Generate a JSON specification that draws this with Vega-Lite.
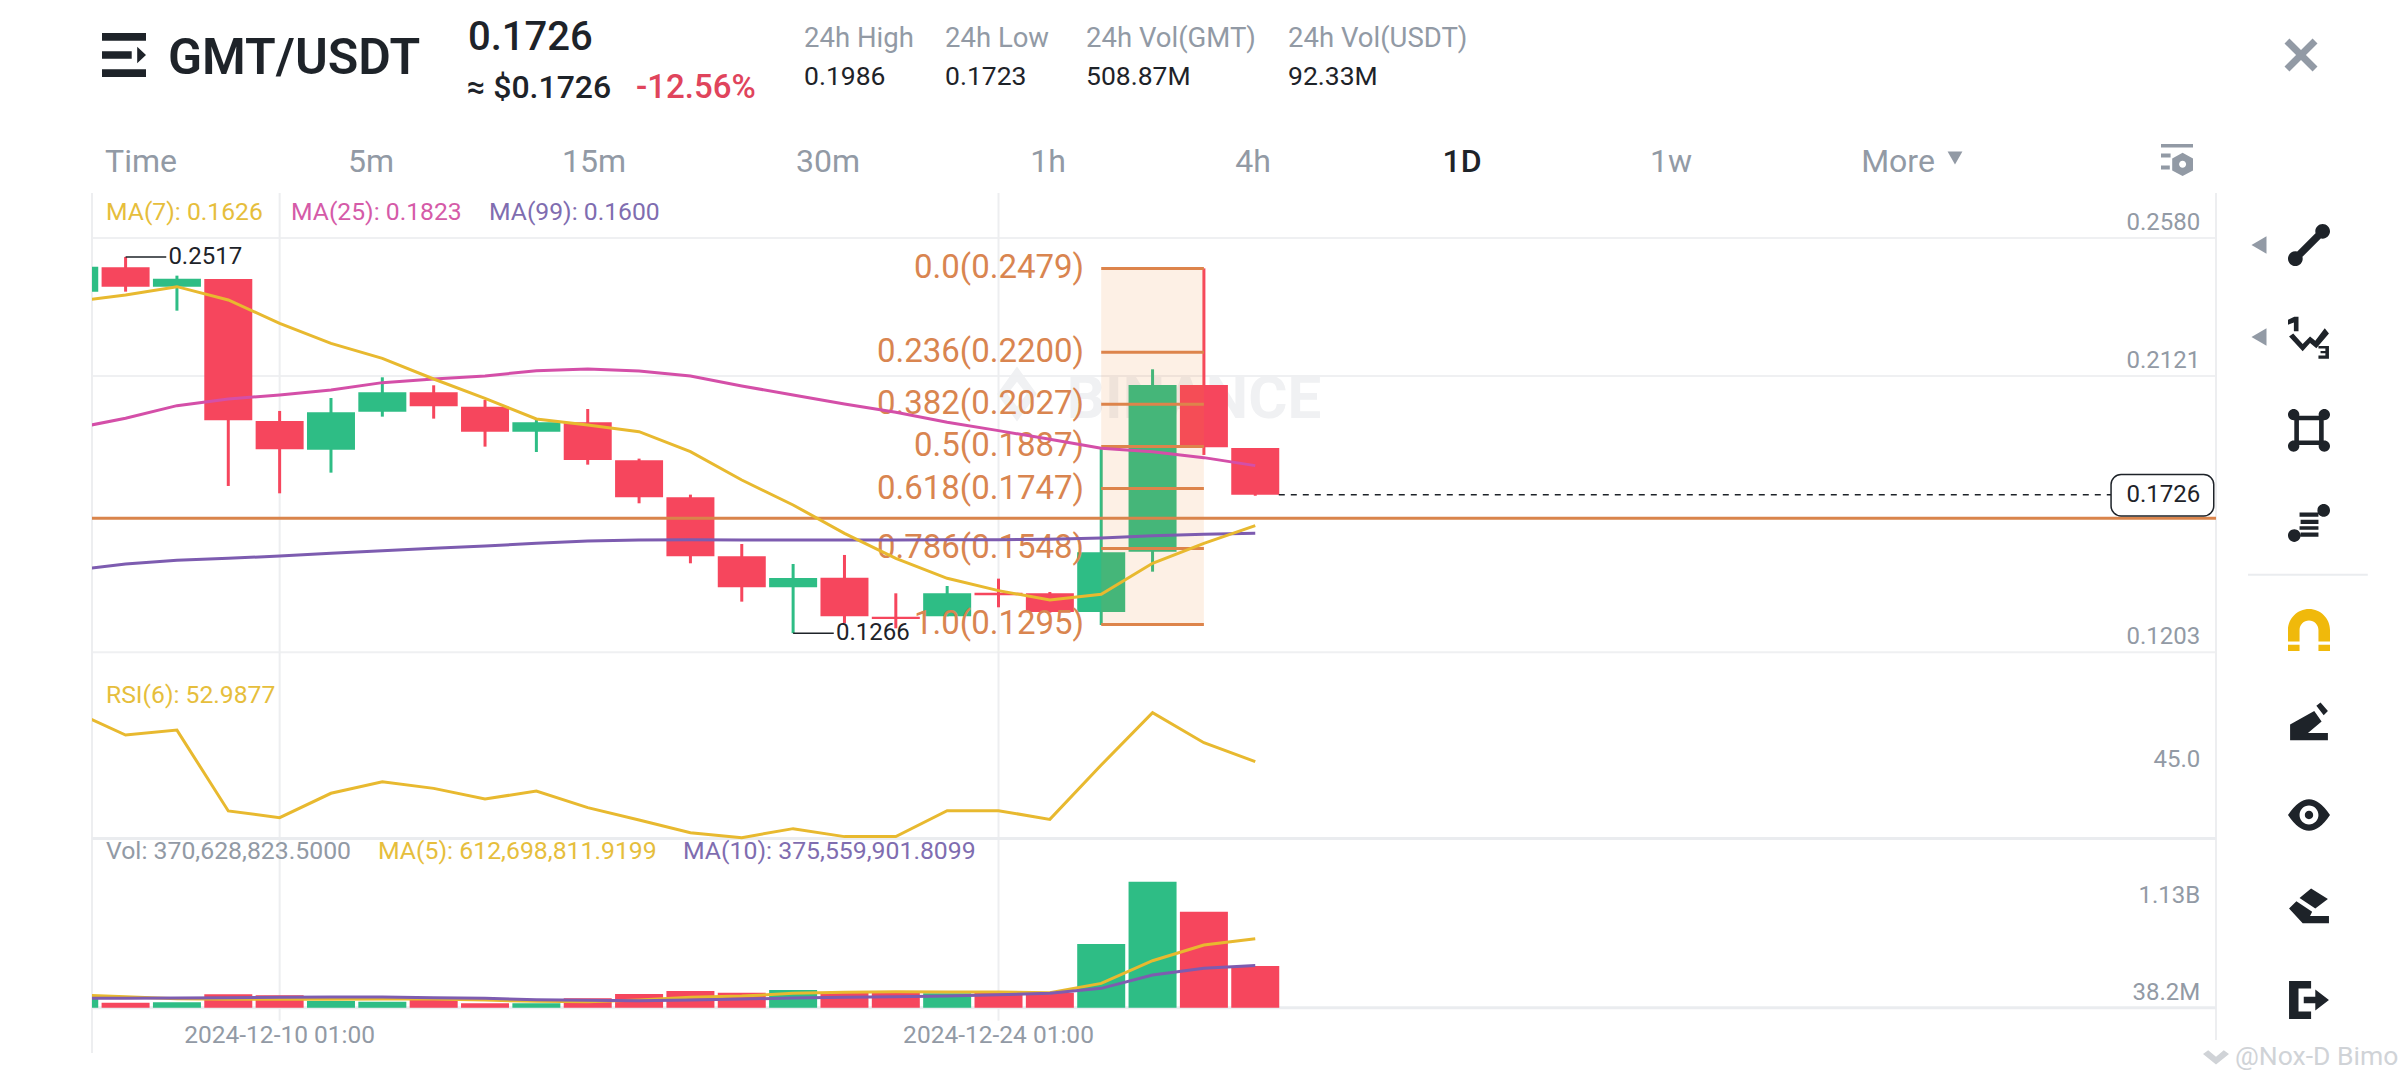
{
"$schema":"https://vega.github.io/schema/vega-lite/v6.json",
"width":2124,"height":828,
"autosize":"none",
"padding":{"left":92,"top":193,"right":184,"bottom":59},
"background":"white",
"config":{"font":"Roboto","view":{"stroke":null}},
"datasets":{
"candles":[
{"date":"2024-12-06T01:00:00Z","open":0.24016,"close":0.24847,"high":0.24847,"low":0.24016,"side":"up","ma7":0.23684,"ma25":0.19472,"ma99":0.14762,"rsi":87.7,"vol":83000000,"volMa5":112700000,"volMa10":83000000},
{"date":"2024-12-07T01:00:00Z","open":0.24825,"close":0.24182,"high":0.2517,"low":0.24016,"side":"down","ma7":0.23905,"ma25":0.19805,"ma99":0.14961,"rsi":71.4,"vol":44500000,"volMa5":97800000,"volMa10":83000000},
{"date":"2024-12-08T01:00:00Z","open":0.24182,"close":0.24448,"high":0.24548,"low":0.23384,"side":"up","ma7":0.24182,"ma25":0.20226,"ma99":0.15083,"rsi":74.8,"vol":47400000,"volMa5":80100000,"volMa10":86000000},
{"date":"2024-12-09T01:00:00Z","open":0.24437,"close":0.19738,"high":0.24437,"low":0.17555,"side":"down","ma7":0.23739,"ma25":0.20447,"ma99":0.1515,"rsi":19.0,"vol":118600000,"volMa5":74100000,"volMa10":89000000},
{"date":"2024-12-10T01:00:00Z","open":0.19716,"close":0.18774,"high":0.20049,"low":0.17311,"side":"down","ma7":0.22963,"ma25":0.2058,"ma99":0.15227,"rsi":14.4,"vol":109700000,"volMa5":74100000,"volMa10":91900000},
{"date":"2024-12-11T01:00:00Z","open":0.18763,"close":0.20004,"high":0.20481,"low":0.17998,"side":"up","ma7":0.22298,"ma25":0.20747,"ma99":0.15316,"rsi":31.2,"vol":59300000,"volMa5":74100000,"volMa10":94900000},
{"date":"2024-12-12T01:00:00Z","open":0.20026,"close":0.20669,"high":0.21168,"low":0.1986,"side":"up","ma7":0.218,"ma25":0.20991,"ma99":0.15405,"rsi":39.2,"vol":53400000,"volMa5":77100000,"volMa10":94900000},
{"date":"2024-12-13T01:00:00Z","open":0.20669,"close":0.20204,"high":0.20902,"low":0.19794,"side":"down","ma7":0.21112,"ma25":0.21112,"ma99":0.15482,"rsi":34.6,"vol":74100000,"volMa5":77100000,"volMa10":89000000},
{"date":"2024-12-14T01:00:00Z","open":0.20193,"close":0.19361,"high":0.20414,"low":0.18863,"side":"down","ma7":0.2047,"ma25":0.21212,"ma99":0.1556,"rsi":27.2,"vol":38500000,"volMa5":68200000,"volMa10":83000000},
{"date":"2024-12-15T01:00:00Z","open":0.19361,"close":0.19672,"high":0.19771,"low":0.18685,"side":"up","ma7":0.19782,"ma25":0.21389,"ma99":0.15649,"rsi":32.8,"vol":38500000,"volMa5":56300000,"volMa10":71200000},
{"date":"2024-12-16T01:00:00Z","open":0.19672,"close":0.18419,"high":0.20115,"low":0.18264,"side":"down","ma7":0.19583,"ma25":0.21445,"ma99":0.15726,"rsi":21.3,"vol":83000000,"volMa5":53400000,"volMa10":65200000},
{"date":"2024-12-17T01:00:00Z","open":0.18408,"close":0.17178,"high":0.18464,"low":0.16979,"side":"down","ma7":0.19361,"ma25":0.21378,"ma99":0.15759,"rsi":12.8,"vol":121600000,"volMa5":68200000,"volMa10":62300000},
{"date":"2024-12-18T01:00:00Z","open":0.17178,"close":0.15216,"high":0.17267,"low":0.14984,"side":"down","ma7":0.18696,"ma25":0.21212,"ma99":0.1577,"rsi":4.0,"vol":148000000,"volMa5":91900000,"volMa10":68200000},
{"date":"2024-12-19T01:00:00Z","open":0.15216,"close":0.14186,"high":0.15626,"low":0.13709,"side":"down","ma7":0.17754,"ma25":0.2088,"ma99":0.15759,"rsi":0.6,"vol":133400000,"volMa5":103800000,"volMa10":77100000},
{"date":"2024-12-20T01:00:00Z","open":0.14186,"close":0.14496,"high":0.14961,"low":0.1266,"side":"up","ma7":0.16923,"ma25":0.2058,"ma99":0.15759,"rsi":6.8,"vol":157000000,"volMa5":127500000,"volMa10":86000000},
{"date":"2024-12-21T01:00:00Z","open":0.14507,"close":0.13221,"high":0.15261,"low":0.12989,"side":"down","ma7":0.15981,"ma25":0.20281,"ma99":0.15759,"rsi":1.3,"vol":136400000,"volMa5":136400000,"volMa10":91900000},
{"date":"2024-12-22T01:00:00Z","open":0.1321,"close":0.13133,"high":0.13986,"low":0.12822,"side":"down","ma7":0.1515,"ma25":0.20004,"ma99":0.15759,"rsi":1.3,"vol":136400000,"volMa5":142300000,"volMa10":97800000},
{"date":"2024-12-23T01:00:00Z","open":0.13221,"close":0.13986,"high":0.1423,"low":0.13221,"side":"up","ma7":0.14485,"ma25":0.19672,"ma99":0.1577,"rsi":19.2,"vol":127500000,"volMa5":139400000,"volMa10":103800000},
{"date":"2024-12-24T01:00:00Z","open":0.14008,"close":0.13919,"high":0.14474,"low":0.13521,"side":"down","ma7":0.14075,"ma25":0.19395,"ma99":0.1577,"rsi":19.2,"vol":133400000,"volMa5":139400000,"volMa10":115600000},
{"date":"2024-12-25T01:00:00Z","open":0.13986,"close":0.13365,"high":0.1403,"low":0.13343,"side":"down","ma7":0.13764,"ma25":0.19106,"ma99":0.15782,"rsi":13.2,"vol":133400000,"volMa5":133400000,"volMa10":127500000},
{"date":"2024-12-26T01:00:00Z","open":0.13365,"close":0.15349,"high":0.18807,"low":0.12933,"side":"up","ma7":0.13953,"ma25":0.18807,"ma99":0.15826,"rsi":50.7,"vol":566000000,"volMa5":216400000,"volMa10":172000000},
{"date":"2024-12-27T01:00:00Z","open":0.15371,"close":0.20913,"high":0.21434,"low":0.14706,"side":"up","ma7":0.14984,"ma25":0.18696,"ma99":0.15903,"rsi":86.8,"vol":1121000000,"volMa5":418000000,"volMa10":290600000},
{"date":"2024-12-28T01:00:00Z","open":0.20913,"close":0.1884,"high":0.2479,"low":0.18586,"side":"down","ma7":0.15649,"ma25":0.18497,"ma99":0.15948,"rsi":66.1,"vol":854000000,"volMa5":557400000,"volMa10":349900000},
{"date":"2024-12-29T01:00:00Z","open":0.18818,"close":0.1726,"high":0.18818,"low":0.1723,"side":"down","ma7":0.16236,"ma25":0.18231,"ma99":0.15981,"rsi":53.0,"vol":370628823,"volMa5":612698811,"volMa10":375559901}
],
"fib":[
{"ratio":"0.0(0.2479)","level":0.2479,"from":"2024-12-26T01:00:00Z","to":"2024-12-28T01:00:00Z","labelAt":"2024-12-25T17:00:00Z"},
{"ratio":"0.236(0.2200)","level":0.22,"from":"2024-12-26T01:00:00Z","to":"2024-12-28T01:00:00Z","labelAt":"2024-12-25T17:00:00Z"},
{"ratio":"0.382(0.2027)","level":0.2027,"from":"2024-12-26T01:00:00Z","to":"2024-12-28T01:00:00Z","labelAt":"2024-12-25T17:00:00Z"},
{"ratio":"0.5(0.1887)","level":0.1887,"from":"2024-12-26T01:00:00Z","to":"2024-12-28T01:00:00Z","labelAt":"2024-12-25T17:00:00Z"},
{"ratio":"0.618(0.1747)","level":0.1747,"from":"2024-12-26T01:00:00Z","to":"2024-12-28T01:00:00Z","labelAt":"2024-12-25T17:00:00Z"},
{"ratio":"0.786(0.1548)","level":0.1548,"from":"2024-12-26T01:00:00Z","to":"2024-12-28T01:00:00Z","labelAt":"2024-12-25T17:00:00Z"},
{"ratio":"1.0(0.1295)","level":0.1295,"from":"2024-12-26T01:00:00Z","to":"2024-12-28T01:00:00Z","labelAt":"2024-12-25T17:00:00Z"}
],
"tools1":[{"tool":"line"},{"tool":"zigzag"},{"tool":"box"},{"tool":"channel"}]
},
"resolve":{"scale":{"x":"independent","y":"independent","shape":"independent"}},
"layer":[
{"data":{"values":[{"mark":"BINANCE"}]},
 "mark":{"type":"text","fontSize":60,"fontWeight":"bold","color":"#F0F1F3"},
 "encoding":{"text":{"field":"mark"},
  "x":{"field":"mark","type":"nominal","axis":null,"scale":{"range":[1102,1102]}},
  "y":{"field":"mark","type":"nominal","axis":null,"scale":{"range":[207,207]}}}},
{"data":{"values":[{"mark":"logo"}]},
 "mark":{"type":"point","filled":true,"color":"#F0F1F3","opacity":1,"size":3025,"shape":"M0,-1 L.72,0 L0,1 L-.72,0Z M0,-.45 L-.35,0 L0,.45 L.35,0Z"},
 "encoding":{
  "x":{"field":"mark","type":"nominal","axis":null,"scale":{"range":[925,925]}},
  "y":{"field":"mark","type":"nominal","axis":null,"scale":{"range":[201,201]}}}},
{"resolve":{"scale":{"y":"independent"}},
 "layer":[
 {"layer":[
  {"data":{"values":[{"level":0.258},{"level":0.2121},{"level":0.1203}]},
   "mark":{"type":"rule","color":"#EFF0F2","strokeWidth":2},
   "encoding":{"y":{"field":"level","type":"quantitative","axis":null,"scale":{"domain":[0.12,0.27],"range":[460.04,8.91],"nice":false,"zero":false}}}},
  {"data":{"values":[
    {"date":"2024-12-06T09:18:00Z","top":0.273,"bottom":-0.013},
    {"date":"2025-01-16T18:03:00Z","top":0.273,"bottom":-0.0087},
    {"date":"2024-12-10T01:00:00Z","top":0.273,"bottom":-0.0023},
    {"date":"2024-12-24T01:00:00Z","top":0.273,"bottom":-0.0023}]},
   "mark":{"type":"rule","color":"#EDEEF0","strokeWidth":2},
   "encoding":{
    "x":{"field":"date","type":"temporal","axis":null,
     "scale":{"type":"utc","domain":["2024-12-06T09:18:00Z","2025-01-16T18:03:00Z"],"nice":false,"padding":0}},
    "y":{"field":"top","type":"quantitative","axis":null},
    "y2":{"field":"bottom"}}},
  {"data":{"values":[
    {"date":"2024-12-10T01:00:00Z","tickAt":-0.0073,"tick":"2024-12-10 01:00"},
    {"date":"2024-12-24T01:00:00Z","tickAt":-0.0073,"tick":"2024-12-24 01:00"}]},
   "mark":{"type":"text","fontSize":24.5,"color":"#929AA5"},
   "encoding":{
    "x":{"field":"date","type":"temporal","axis":null},
    "y":{"field":"tickAt","type":"quantitative","axis":null},
    "text":{"field":"tick"}}},
  {"data":{"name":"candles"},
   "mark":{"type":"rule","strokeWidth":3,"clip":true},
   "encoding":{
    "x":{"field":"date","type":"temporal","axis":null},
    "y":{"field":"low","type":"quantitative","axis":null},
    "y2":{"field":"high"},
    "color":{"field":"side","type":"nominal","legend":null,"scale":{"domain":["up","down"],"range":["#2EBD85","#F6465D"]}}}},
  {"data":{"name":"candles"},
   "mark":{"type":"bar","size":48,"clip":true},
   "encoding":{
    "x":{"field":"date","type":"temporal","axis":null},
    "y":{"field":"open","type":"quantitative","axis":null,"stack":null},
    "y2":{"field":"close"},
    "color":{"field":"side","type":"nominal","legend":null}}},
  {"data":{"values":[{"from":"2024-12-26T01:00:00Z","to":"2024-12-28T01:00:00Z","hi":0.2479,"lo":0.1295}]},
   "mark":{"type":"rect","color":"#F0872C","opacity":0.12},
   "encoding":{
    "x":{"field":"from","type":"temporal","axis":null},"x2":{"field":"to"},
    "y":{"field":"hi","type":"quantitative","axis":null},"y2":{"field":"lo"}}},
  {"data":{"name":"fib"},
   "mark":{"type":"rule","color":"#DD844B","strokeWidth":3},
   "encoding":{
    "x":{"field":"from","type":"temporal","axis":null},"x2":{"field":"to"},
    "y":{"field":"level","type":"quantitative","axis":null}}},
  {"data":{"name":"fib"},
   "mark":{"type":"text","align":"right","fontSize":33,"color":"#D98550"},
   "encoding":{
    "x":{"field":"labelAt","type":"temporal","axis":null},
    "y":{"field":"level","type":"quantitative","axis":null},
    "text":{"field":"ratio"}}},
  {"data":{"values":[{"level":0.1648}]},
   "mark":{"type":"rule","color":"#D9844B","strokeWidth":3},
   "encoding":{"y":{"field":"level","type":"quantitative","axis":null}}},
  {"data":{"name":"candles"},
   "mark":{"type":"line","color":"#7D5CB0","strokeWidth":3,"clip":true},
   "encoding":{"x":{"field":"date","type":"temporal","axis":null},"y":{"field":"ma99","type":"quantitative","axis":null}}},
  {"data":{"name":"candles"},
   "mark":{"type":"line","color":"#D44FA8","strokeWidth":3,"clip":true},
   "encoding":{"x":{"field":"date","type":"temporal","axis":null},"y":{"field":"ma25","type":"quantitative","axis":null}}},
  {"data":{"name":"candles"},
   "mark":{"type":"line","color":"#E8B92F","strokeWidth":3,"clip":true},
   "encoding":{"x":{"field":"date","type":"temporal","axis":null},"y":{"field":"ma7","type":"quantitative","axis":null}}},
  {"data":{"values":[
    {"from":"2024-12-07T01:00:00Z","to":"2024-12-07T20:00:00Z","price":0.2517},
    {"from":"2024-12-20T01:00:00Z","to":"2024-12-20T20:00:00Z","price":0.1266}]},
   "mark":{"type":"rule","color":"#1E2329","strokeWidth":1.5},
   "encoding":{
    "x":{"field":"from","type":"temporal","axis":null},"x2":{"field":"to"},
    "y":{"field":"price","type":"quantitative","axis":null}}},
  {"data":{"values":[
    {"at":"2024-12-07T21:00:00Z","price":0.2517,"label":"0.2517"},
    {"at":"2024-12-20T21:00:00Z","price":0.1266,"label":"0.1266"}]},
   "mark":{"type":"text","align":"left","fontSize":24,"color":"#1E2329"},
   "encoding":{
    "x":{"field":"at","type":"temporal","axis":null},
    "y":{"field":"price","type":"quantitative","axis":null},
    "text":{"field":"label"}}},
  {"data":{"values":[{"from":"2024-12-29T12:00:00Z","to":"2025-01-14T17:00:00Z","price":0.1726}]},
   "mark":{"type":"rule","color":"#1E2329","strokeWidth":1.5,"strokeDash":[6,6]},
   "encoding":{
    "x":{"field":"from","type":"temporal","axis":null},"x2":{"field":"to"},
    "y":{"field":"price","type":"quantitative","axis":null}}},
  {"data":{"values":[{"from":"2025-01-14T17:00:00Z","to":"2025-01-16T17:00:00Z","hi":0.17936,"lo":0.16557}]},
   "mark":{"type":"rect","fill":"white","stroke":"#1E2329","strokeWidth":1.5,"cornerRadius":10},
   "encoding":{
    "x":{"field":"from","type":"temporal","axis":null},"x2":{"field":"to"},
    "y":{"field":"hi","type":"quantitative","axis":null},"y2":{"field":"lo"}}},
  {"data":{"values":[{"at":"2025-01-16T10:40:00Z","price":0.1726,"label":"0.1726"}]},
   "mark":{"type":"text","align":"right","fontSize":24,"color":"#1E2329"},
   "encoding":{
    "x":{"field":"at","type":"temporal","axis":null},
    "y":{"field":"price","type":"quantitative","axis":null},
    "text":{"field":"label"}}},
  {"data":{"values":[
    {"at":"2025-01-16T10:40:00Z","level":0.258,"label":"0.2580"},
    {"at":"2025-01-16T10:40:00Z","level":0.2121,"label":"0.2121"},
    {"at":"2025-01-16T10:40:00Z","level":0.1203,"label":"0.1203"}]},
   "mark":{"type":"text","align":"right","baseline":"bottom","dy":-3,"fontSize":24,"color":"#929AA5"},
   "encoding":{
    "x":{"field":"at","type":"temporal","axis":null},
    "y":{"field":"level","type":"quantitative","axis":null},
    "text":{"field":"label"}}},
  {"data":{"values":[{"from":"2025-01-17T09:00:00Z","to":"2025-01-19T17:00:00Z","price":0.146}]},
   "mark":{"type":"rule","color":"#EAECEF","strokeWidth":2},
   "encoding":{
    "x":{"field":"from","type":"temporal","axis":null},"x2":{"field":"to"},
    "y":{"field":"price","type":"quantitative","axis":null}}}
 ]},
 {"layer":[
  {"data":{"values":[{"level":0}]},
   "mark":{"type":"rule","color":"#EAECEF","strokeWidth":3},
   "encoding":{"y":{"field":"level","type":"quantitative","axis":null,"scale":{"domain":[0,100],"range":[645.5,500.6],"nice":false}}}},
  {"data":{"name":"candles"},
   "mark":{"type":"line","color":"#E8B92F","strokeWidth":3,"clip":true},
   "encoding":{"x":{"field":"date","type":"temporal","axis":null},"y":{"field":"rsi","type":"quantitative","axis":null}}},
  {"data":{"values":[{"at":"2025-01-16T10:40:00Z","level":45,"label":"45.0"}]},
   "mark":{"type":"text","align":"right","baseline":"bottom","dy":-1,"fontSize":24,"color":"#929AA5"},
   "encoding":{
    "x":{"field":"at","type":"temporal","axis":null},
    "y":{"field":"level","type":"quantitative","axis":null},
    "text":{"field":"label"}}}
 ]},
 {"layer":[
  {"data":{"values":[{"level":0}]},
   "mark":{"type":"rule","color":"#EAECEF","strokeWidth":3},
   "encoding":{"y":{"field":"level","type":"quantitative","axis":null,"scale":{"domain":[0,1200000000],"range":[814.7,679.8],"nice":false}}}},
  {"data":{"name":"candles"},
   "mark":{"type":"bar","size":48,"clip":true},
   "encoding":{
    "x":{"field":"date","type":"temporal","axis":null},
    "y":{"field":"vol","type":"quantitative","axis":null,"stack":null},
    "color":{"field":"side","type":"nominal","legend":null}}},
  {"data":{"name":"candles"},
   "mark":{"type":"line","color":"#E8B92F","strokeWidth":3,"clip":true},
   "encoding":{"x":{"field":"date","type":"temporal","axis":null},"y":{"field":"volMa5","type":"quantitative","axis":null}}},
  {"data":{"name":"candles"},
   "mark":{"type":"line","color":"#7D5CB0","strokeWidth":3,"clip":true},
   "encoding":{"x":{"field":"date","type":"temporal","axis":null},"y":{"field":"volMa10","type":"quantitative","axis":null}}},
  {"data":{"values":[
    {"at":"2025-01-16T10:40:00Z","level":860000000,"label":"1.13B"},
    {"at":"2025-01-16T10:40:00Z","level":0,"label":"38.2M"}]},
   "mark":{"type":"text","align":"right","baseline":"bottom","dy":-3,"fontSize":24,"color":"#929AA5"},
   "encoding":{
    "x":{"field":"at","type":"temporal","axis":null},
    "y":{"field":"level","type":"quantitative","axis":null},
    "text":{"field":"label"}}}
 ]}
 ]},
{"data":{"values":[{"t":"MA(7): 0.1626"}]},"mark":{"type":"text","align":"left","fontSize":24.7,"color":"#E6BE3C"},
 "encoding":{"text":{"field":"t"},"x":{"field":"t","type":"nominal","axis":null,"scale":{"range":[14,14]}},"y":{"field":"t","type":"nominal","axis":null,"scale":{"range":[20,20]}}}},
{"data":{"values":[{"t":"MA(25): 0.1823"}]},"mark":{"type":"text","align":"left","fontSize":24.7,"color":"#D55BA8"},
 "encoding":{"text":{"field":"t"},"x":{"field":"t","type":"nominal","axis":null,"scale":{"range":[199,199]}},"y":{"field":"t","type":"nominal","axis":null,"scale":{"range":[20,20]}}}},
{"data":{"values":[{"t":"MA(99): 0.1600"}]},"mark":{"type":"text","align":"left","fontSize":24.7,"color":"#7F6DB0"},
 "encoding":{"text":{"field":"t"},"x":{"field":"t","type":"nominal","axis":null,"scale":{"range":[397,397]}},"y":{"field":"t","type":"nominal","axis":null,"scale":{"range":[20,20]}}}},
{"data":{"values":[{"t":"RSI(6): 52.9877"}]},"mark":{"type":"text","align":"left","fontSize":24.7,"color":"#E6BE3C"},
 "encoding":{"text":{"field":"t"},"x":{"field":"t","type":"nominal","axis":null,"scale":{"range":[14,14]}},"y":{"field":"t","type":"nominal","axis":null,"scale":{"range":[503,503]}}}},
{"data":{"values":[{"t":"Vol: 370,628,823.5000"}]},"mark":{"type":"text","align":"left","fontSize":24.8,"color":"#929AA5"},
 "encoding":{"text":{"field":"t"},"x":{"field":"t","type":"nominal","axis":null,"scale":{"range":[14,14]}},"y":{"field":"t","type":"nominal","axis":null,"scale":{"range":[659,659]}}}},
{"data":{"values":[{"t":"MA(5): 612,698,811.9199"}]},"mark":{"type":"text","align":"left","fontSize":24.8,"color":"#E6BE3C"},
 "encoding":{"text":{"field":"t"},"x":{"field":"t","type":"nominal","axis":null,"scale":{"range":[286,286]}},"y":{"field":"t","type":"nominal","axis":null,"scale":{"range":[659,659]}}}},
{"data":{"values":[{"t":"MA(10): 375,559,901.8099"}]},"mark":{"type":"text","align":"left","fontSize":24.8,"color":"#7F6DB0"},
 "encoding":{"text":{"field":"t"},"x":{"field":"t","type":"nominal","axis":null,"scale":{"range":[591,591]}},"y":{"field":"t","type":"nominal","axis":null,"scale":{"range":[659,659]}}}},
{"data":{"values":[{"t":"GMT/USDT"}]},"mark":{"type":"text","align":"left","fontSize":50,"fontWeight":600,"color":"#1E2329"},
 "encoding":{"text":{"field":"t"},"x":{"field":"t","type":"nominal","axis":null,"scale":{"range":[76,76]}},"y":{"field":"t","type":"nominal","axis":null,"scale":{"range":[-134,-134]}}}},
{"data":{"values":[{"t":"0.1726"}]},"mark":{"type":"text","align":"left","fontSize":40,"fontWeight":500,"color":"#1E2329"},
 "encoding":{"text":{"field":"t"},"x":{"field":"t","type":"nominal","axis":null,"scale":{"range":[376,376]}},"y":{"field":"t","type":"nominal","axis":null,"scale":{"range":[-155,-155]}}}},
{"data":{"values":[{"t":"≈ $0.1726"}]},"mark":{"type":"text","align":"left","fontSize":32,"fontWeight":500,"color":"#1E2329"},
 "encoding":{"text":{"field":"t"},"x":{"field":"t","type":"nominal","axis":null,"scale":{"range":[375,375]}},"y":{"field":"t","type":"nominal","axis":null,"scale":{"range":[-105,-105]}}}},
{"data":{"values":[{"t":"-12.56%"}]},"mark":{"type":"text","align":"left","fontSize":33,"fontWeight":500,"color":"#E0445C"},
 "encoding":{"text":{"field":"t"},"x":{"field":"t","type":"nominal","axis":null,"scale":{"range":[544,544]}},"y":{"field":"t","type":"nominal","axis":null,"scale":{"range":[-105,-105]}}}},
{"data":{"values":[{"stat":"24h High"},{"stat":"24h Low"},{"stat":"24h Vol(GMT)"}]},"mark":{"type":"text","align":"left","fontSize":27.5,"color":"#929AA5"},
 "encoding":{"text":{"field":"stat"},"x":{"field":"stat","type":"nominal","axis":null,"sort":null,"scale":{"range":[712,994],"padding":0}},"y":{"datum":"name","type":"nominal","axis":null,"scale":{"range":[-154,-154]}}}},
{"data":{"values":[{"stat":"24h Vol(USDT)"}]},"mark":{"type":"text","align":"left","fontSize":27.5,"color":"#929AA5"},
 "encoding":{"text":{"field":"stat"},"x":{"field":"stat","type":"nominal","axis":null,"scale":{"range":[1196,1196]}},"y":{"datum":"name","type":"nominal","axis":null,"scale":{"range":[-154,-154]}}}},
{"data":{"values":[{"stat":"0.1986"},{"stat":"0.1723"},{"stat":"508.87M"}]},"mark":{"type":"text","align":"left","fontSize":26.5,"color":"#1E2329"},
 "encoding":{"text":{"field":"stat"},"x":{"field":"stat","type":"nominal","axis":null,"sort":null,"scale":{"range":[712,994],"padding":0}},"y":{"datum":"value","type":"nominal","axis":null,"scale":{"range":[-116,-116]}}}},
{"data":{"values":[{"stat":"92.33M"}]},"mark":{"type":"text","align":"left","fontSize":26.5,"color":"#1E2329"},
 "encoding":{"text":{"field":"stat"},"x":{"field":"stat","type":"nominal","axis":null,"scale":{"range":[1196,1196]}},"y":{"datum":"value","type":"nominal","axis":null,"scale":{"range":[-116,-116]}}}},
{"data":{"values":[{"tab":"Time"},{"tab":"More"}]},"mark":{"type":"text","fontSize":32,"color":"#929AA5"},
 "encoding":{"text":{"field":"tab"},"x":{"field":"tab","type":"nominal","axis":null,"sort":null,"scale":{"range":[49,1806],"padding":0}},"y":{"datum":"tabs","type":"nominal","axis":null,"scale":{"range":[-31,-31]}}}},
{"data":{"values":[{"tab":"5m"},{"tab":"15m"}]},"mark":{"type":"text","fontSize":32,"color":"#929AA5"},
 "encoding":{"text":{"field":"tab"},"x":{"field":"tab","type":"nominal","axis":null,"sort":null,"scale":{"range":[279,502],"padding":0}},"y":{"datum":"tabs","type":"nominal","axis":null,"scale":{"range":[-31,-31]}}}},
{"data":{"values":[{"tab":"30m"},{"tab":"1h"}]},"mark":{"type":"text","fontSize":32,"color":"#929AA5"},
 "encoding":{"text":{"field":"tab"},"x":{"field":"tab","type":"nominal","axis":null,"sort":null,"scale":{"range":[736,956],"padding":0}},"y":{"datum":"tabs","type":"nominal","axis":null,"scale":{"range":[-31,-31]}}}},
{"data":{"values":[{"tab":"4h"},{"tab":"1w"}]},"mark":{"type":"text","fontSize":32,"color":"#929AA5"},
 "encoding":{"text":{"field":"tab"},"x":{"field":"tab","type":"nominal","axis":null,"sort":null,"scale":{"range":[1161,1579],"padding":0}},"y":{"datum":"tabs","type":"nominal","axis":null,"scale":{"range":[-31,-31]}}}},
{"data":{"values":[{"tab":"1D"}]},"mark":{"type":"text","fontSize":32,"fontWeight":500,"color":"#1E2329"},
 "encoding":{"text":{"field":"tab"},"x":{"field":"tab","type":"nominal","axis":null,"scale":{"range":[1370,1370]}},"y":{"datum":"tabs","type":"nominal","axis":null,"scale":{"range":[-31,-31]}}}},
{"data":{"values":[{"t":"@Nox-D Bimo"}]},"mark":{"type":"text","align":"left","fontSize":26.5,"color":"#D0D3D7"},
 "encoding":{"text":{"field":"t"},"x":{"field":"t","type":"nominal","axis":null,"scale":{"range":[2143,2143]}},"y":{"field":"t","type":"nominal","axis":null,"scale":{"range":[864,864]}}}},
{"data":{"values":[{"icon":"signature"}]},"mark":{"type":"point","filled":true,"opacity":1,"color":"#D0D3D7","size":676,"shape":"M-1,-.3L0,.5L1,-.3L.6,-.6L0,-.1L-.6,-.6Z"},
 "encoding":{"x":{"field":"icon","type":"nominal","axis":null,"scale":{"range":[2124,2124]}},"y":{"field":"icon","type":"nominal","axis":null,"scale":{"range":[865,865]}}}},
{"data":{"values":[{"icon":"menu"}]},"mark":{"type":"point","filled":true,"opacity":1,"color":"#1E2329","size":1936,"shape":"M-1,-1H1V-.65H-1Z M-1,-.17H.35V.17H-1Z M.6,-.38L1,0L.6,.38Z M-1,.65H1V1H-1Z"},
 "encoding":{"x":{"field":"icon","type":"nominal","axis":null,"scale":{"range":[32,32]}},"y":{"field":"icon","type":"nominal","axis":null,"scale":{"range":[-138,-138]}}}},
{"data":{"values":[{"icon":"close"}]},"mark":{"type":"point","filled":true,"opacity":1,"color":"#929AA5","size":1089,"shape":"M-1,-.7L-.7,-1L0,-.3L.7,-1L1,-.7L.3,0L1,.7L.7,1L0,.3L-.7,1L-1,.7L-.3,0Z"},
 "encoding":{"x":{"field":"icon","type":"nominal","axis":null,"scale":{"range":[2209,2209]}},"y":{"field":"icon","type":"nominal","axis":null,"scale":{"range":[-138,-138]}}}},
{"data":{"values":[{"icon":"settings"}]},"mark":{"type":"point","filled":true,"opacity":1,"color":"#929AA5","size":1024,"shape":"M-1,-1H1V-.78H-1Z M-1,-.4H-.4V-.15H-1Z M-1,.35H-.45V.6H-1Z M.35,-.45L1,-.1V.65L.35,1L-.3,.65V-.1Z M.35,.05A.22,.22 0 1,0 .35,.49A.22,.22 0 1,0 .35,.05Z"},
 "encoding":{"x":{"field":"icon","type":"nominal","axis":null,"scale":{"range":[2085,2085]}},"y":{"field":"icon","type":"nominal","axis":null,"scale":{"range":[-33,-33]}}}},
{"data":{"values":[{"icon":"more"}]},"mark":{"type":"point","filled":true,"opacity":1,"color":"#929AA5","size":220,"shape":"triangle-down"},
 "encoding":{"x":{"field":"icon","type":"nominal","axis":null,"scale":{"range":[1863,1863]}},"y":{"field":"icon","type":"nominal","axis":null,"scale":{"range":[-35,-35]}}}},
{"data":{"values":[{"tool":"line"},{"tool":"zigzag"}]},"mark":{"type":"point","filled":true,"opacity":1,"color":"#929AA5","size":300,"shape":"triangle-left"},
 "encoding":{"x":{"datum":"expand","type":"nominal","axis":null,"scale":{"range":[2167,2167]}},"y":{"field":"tool","type":"nominal","axis":null,"sort":null,"scale":{"range":[52,144],"padding":0}}}},
{"data":{"name":"tools1"},"mark":{"type":"point","filled":true,"opacity":1,"color":"#1E2329","size":1764},
 "encoding":{"x":{"datum":"tools","type":"nominal","axis":null,"scale":{"range":[2217,2217]}},
  "y":{"field":"tool","type":"nominal","axis":null,"sort":null,"scale":{"range":[52,330],"padding":0}},
  "shape":{"field":"tool","type":"nominal","legend":null,"scale":{"domain":["line","zigzag","box","channel"],"range":[
   "M-.75,.5L.5,-.75L.75,-.5L-.5,.75Z M.3,-.65A.35,.35 0 1,1 1,-.65A.35,.35 0 1,1 .3,-.65Z M-1,.65A.35,.35 0 1,1 -.3,.65A.35,.35 0 1,1 -1,.65Z",
   "M-.75,-.2L-.3,.3L.05,-.05L.3,.15L.75,-.45L.95,-.2L.35,.5L.05,.25L-.3,.65L-.95,-.05Z M-1,-.85L-.7,-1H-.5V-.3H-.72V-.72L-1,-.62Z M.45,.4H.95V1H.45V.85H.78V.74H.55V.64H.78V.52H.45Z",
   "M-.7,-.7H.7V.7H-.7Z M-.48,-.48V.48H.48V-.48Z M-1,-.75A.27,.27 0 1,1 -.46,-.75A.27,.27 0 1,1 -1,-.75Z M.46,-.75A.27,.27 0 1,1 1,-.75A.27,.27 0 1,1 .46,-.75Z M-1,.75A.27,.27 0 1,1 -.46,.75A.27,.27 0 1,1 -1,.75Z M.46,.75A.27,.27 0 1,1 1,.75A.27,.27 0 1,1 .46,.75Z",
   "M.4,-.6A.3,.3 0 1,1 1,-.6A.3,.3 0 1,1 .4,-.6Z M-1,.6A.3,.3 0 1,1 -.4,.6A.3,.3 0 1,1 -1,.6Z M-.45,-.5H.45V-.3H-.45Z M-.4,-.15H.45V.05H-.4Z M-.4,.45H.45V.65H-.4Z M-.45,.15H.45V.32H-.45Z"]}}}},
{"data":{"values":[{"tool":"magnet"}]},"mark":{"type":"point","filled":true,"opacity":1,"color":"#F0B90B","size":1764,"shape":"M-1,.55V0A1,1 0 0 1 1,0V.55H.45V0A.45,.45 0 0 0 -.45,0V.55Z M-1,.7H-.45V1H-1Z M.45,.7H1V1H.45Z"},
 "encoding":{"x":{"datum":"tools","type":"nominal","axis":null,"scale":{"range":[2217,2217]}},"y":{"field":"tool","type":"nominal","axis":null,"scale":{"range":[437,437]}}}},
{"data":{"values":[{"tool":"pencil"},{"tool":"eye"},{"tool":"eraser"},{"tool":"exit"}]},"mark":{"type":"point","filled":true,"opacity":1,"color":"#1E2329","size":1764},
 "encoding":{"x":{"datum":"tools","type":"nominal","axis":null,"scale":{"range":[2217,2217]}},
  "y":{"field":"tool","type":"nominal","axis":null,"sort":null,"scale":{"range":[529.5,807],"padding":0}},
  "shape":{"field":"tool","type":"nominal","legend":null,"scale":{"domain":["pencil","eye","eraser","exit"],"range":[
   "M-.9,.1L.25,-.55L.6,-.05L-.05,.5H.9V.85H-.9Z M.35,-.8L.55,-.95L.9,-.55L.7,-.35Z",
   "M-1,0Q0,-1.5 1,0Q0,1.5 -1,0Z M-.45,0A.45,.45 0 1,0 .45,0A.45,.45 0 1,0 -.45,0Z M-.2,0A.2,.2 0 1,1 .2,0A.2,.2 0 1,1 -.2,0Z",
   "M.1,-.9L.9,-.4L.3,.05L-.45,-.45Z M-.95,.05L-.6,-.3L.15,.2L.05,.4H.95V.75H-.3Z",
   "M-.95,-.9H.1V-.55H-.5V.55H.1V.9H-.95Z M-.25,-.15H.3V-.5L.95,0L.3,.5V.15H-.25Z"]}}}}
]
}
